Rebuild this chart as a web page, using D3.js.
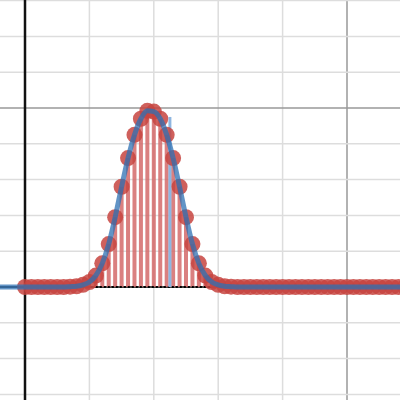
<!DOCTYPE html>
<html><head><meta charset="utf-8">
<script src="https://cdn.jsdelivr.net/npm/d3@7"></script>
<style>body{margin:0;background:#fff}</style>
</head><body>
<svg id="c" width="400" height="400"></svg>
<script>
var xs = [0,0.1,0.2,0.3,0.4,0.5,0.6,0.7,0.8,0.9,1.0,1.1,1.2,1.3,1.4,1.5,1.6,1.7,1.8,1.9,
          2.0,2.1,2.2,2.3,2.4,2.5,2.6,2.7,2.8,2.9,3.0,3.1,3.2,3.3,3.4,3.5,3.6,3.7,3.8,3.9,
          4.0,4.1,4.2,4.3,4.4,4.5,4.6,4.7,4.8,4.9,5.0,5.1,5.2,5.3,5.4,5.5,5.6,5.7,5.8,5.9];
var ys = [0,0,0,0,0,0,0,0.01,0.02,0.06,0.14,0.32,0.66,1.2,1.95,2.8,3.6,4.25,4.7,4.92,
          4.9,4.7,4.25,3.6,2.8,1.95,1.2,0.66,0.32,0.14,0.06,0.02,0.01,0,0,0,0,0,0,0,
          0,0,0,0,0,0,0,0,0,0,0,0,0,0,0,0,0,0,0,0];
var stickFrom = 1.1, stickTo = 2.9;
var markX = 2.25;
var gridX = [-1,0,1,2,3,4,5,6], gridY = [-4,-3,-2,-1,0,1,2,3,4,5,6,7,8];

var svg = d3.select("#c");
var x = d3.scaleLinear().domain([0,5]).range([25,347]);
var y = d3.scaleLinear().domain([0,5]).range([287,108]);

svg.selectAll("line.gx").data(gridX).enter().append("line")
  .attr("x1",d=>x(d)).attr("x2",d=>x(d)).attr("y1",0).attr("y2",400)
  .attr("stroke",d=>d==5?"#999":"#ddd").attr("stroke-width",1.5);
svg.selectAll("line.gy").data(gridY).enter().append("line")
  .attr("y1",d=>y(d)).attr("y2",d=>y(d)).attr("x1",0).attr("x2",400)
  .attr("stroke",d=>d==5?"#999":"#ddd").attr("stroke-width",1.5);
svg.append("line").attr("x1",x(0)).attr("x2",x(0)).attr("y1",0).attr("y2",400)
  .attr("stroke","#111").attr("stroke-width",2.5);
svg.append("line").attr("x1",0).attr("x2",400).attr("y1",y(0)).attr("y2",y(0))
  .attr("stroke","#111").attr("stroke-width",1.5);

var pts = xs.map((d,i)=>[d,ys[i]]);
var sticks = pts.filter(p=>p[0]>=stickFrom-1e-9 && p[0]<=stickTo+1e-9);
svg.selectAll("line.st").data(sticks).enter().append("line")
  .attr("x1",p=>x(p[0])).attr("x2",p=>x(p[0])).attr("y1",y(0)).attr("y2",p=>y(p[1]))
  .attr("stroke","#d46a6a").attr("stroke-opacity",0.85).attr("stroke-width",4);
svg.append("line").attr("x1",x(stickFrom)).attr("x2",x(stickTo)).attr("y1",y(0)).attr("y2",y(0))
  .attr("stroke","#000").attr("stroke-width",2).attr("stroke-dasharray","2,2");
svg.append("line").attr("x1",x(markX)).attr("x2",x(markX)).attr("y1",y(4.75)).attr("y2",y(0))
  .attr("stroke","#8fb6e0").attr("stroke-width",3);

svg.selectAll("circle").data(pts).enter().append("circle")
  .attr("cx",p=>x(p[0])).attr("cy",p=>y(p[1])).attr("r",8)
  .attr("fill","#c74440").attr("fill-opacity",0.85);

var line = d3.line().x(p=>x(p[0])).y(p=>y(p[1])).curve(d3.curveMonotoneX);
var curvePts = [[-0.5,0]].concat(pts).concat([[6.5,0]]);
svg.append("path").attr("d",line(curvePts)).attr("fill","none")
  .attr("stroke","#2d70b3").attr("stroke-opacity",0.75).attr("stroke-width",5);
</script>
</body></html>
